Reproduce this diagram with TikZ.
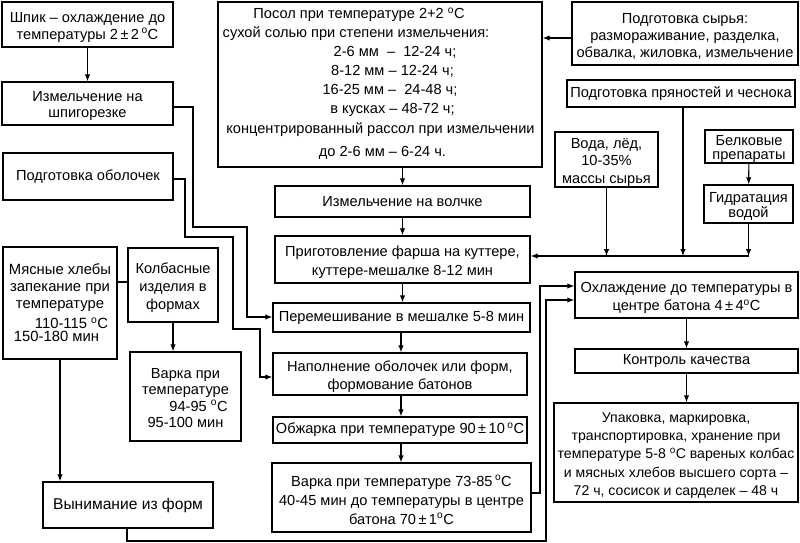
\documentclass[tikz,border=0pt]{standalone}
\usepackage{fontspec}
\setmainfont{Liberation Sans}
\usetikzlibrary{arrows.meta}
\newcommand\dC{\textsuperscript{o}C}
\newcommand\pmx{\,±\,}
\newcommand\tp{\rule{0pt}{15.5pt}}
\newcommand\flowbox[7][]{\node[box,#1,minimum width={(#4-#2)*1pt},minimum height={(#5-#3)*1pt}] (#6) at ({(#2+#4)/2},{(#3+#5)/2}) {#7};}
\begin{document}
\begin{tikzpicture}[x=1pt,y=-1pt,
  every node/.style={font=\fontsize{14.6}{18.3}\selectfont},
  box/.style={draw,line width=1.4pt,inner sep=0pt,align=center},
  txt/.style={inner sep=0pt,anchor=base},
  arr/.style={line width=1.1pt,-{Latex[length=7pt,width=5.5pt]}},
  con/.style={line width=1.1pt}]
\useasboundingbox[fill=white] (0,0) rectangle (800,543);
% left column
\flowbox[font=\fontsize{14.6}{16.7}\selectfont]{2}{2}{173}{47}{shpik}{\tp Шпик – охлаждение до\\температуры 2\pmx2\,\dC}
\flowbox[font=\fontsize{14.6}{15.5}\selectfont]{2}{82}{173}{125}{shpig}{\tp Измельчение на\\шпигорезке}
\flowbox{3}{153}{173}{200}{obol}{Подготовка оболочек}
\flowbox[font=\fontsize{14.8}{17}\selectfont]{3}{247}{117}{359}{myas}{Мясные хлебы\\запекание при\\температуре\\[3pt]\hspace*{23pt}110-115 \dC\\[-4pt]150-180 мин\hspace*{7pt}}
\flowbox[font=\fontsize{14.6}{17.8}\selectfont]{128}{248}{218}{322}{kolb}{\tp Колбасные\\изделия в\\формах}
\flowbox[font=\fontsize{14.6}{16.5}\selectfont]{130}{352}{241}{441}{varka}{\rule{0pt}{13pt}Варка при\\температуре\\\hspace*{26pt}94-95 \dC\\95-100 мин}
\flowbox[font=\fontsize{15.6}{18}\selectfont]{43}{482}{213}{528}{vyn}{Вынимание из форм}
% middle column
\flowbox{218}{2}{542}{167}{posol}{}
\node[txt] (p1) at (359,19) {Посол при температуре 2+2 \dC};
\node[txt] (p2) at (356,37.5) {сухой солью при степени измельчения:};
\node[txt] (p3) at (395,56.5) {2-6 мм \ – \ 12-24 ч;};
\node[txt] (p4) at (392.5,75) {8-12 мм – 12-24 ч;};
\node[txt] (p5) at (390,94) {16-25 мм – \ 24-48 ч;};
\node[txt] (p6) at (392.5,113) {в кусках – 48-72 ч;};
\node[txt] (p7) at (380.5,133) {концентрированный рассол при измельчении};
\node[txt] (p8) at (382.5,156) {до 2-6 мм – 6-24 ч.};
\flowbox{275}{186}{530}{217}{volch}{Измельчение на волчке}
\flowbox[font=\fontsize{14.6}{19.3}\selectfont]{275}{236}{530}{283}{prig}{\tp Приготовление фарша на куттере,\\куттере-мешалке 8-12 мин}
\flowbox{273}{303}{530}{332}{perem}{Перемешивание в мешалке 5-8 мин}
\flowbox{273}{353}{527}{395}{napol}{\tp Наполнение оболочек или форм,\\формование батонов}
\flowbox{273}{417}{527}{443}{obzh}{Обжарка при температуре 90\pmx10\,\dC}
\flowbox[font=\fontsize{14.6}{19}\selectfont]{272}{463}{531}{532}{varkb}{\tp Варка при температуре 73-85\,\dC\\40-45 мин до температуры в центре\\батона 70\pmx1\dC}
% right column
\flowbox[font=\fontsize{14.6}{16.7}\selectfont]{572}{2}{798}{65}{syr}{\tp Подготовка сырья:\\размораживание, разделка,\\обвалка, жиловка, измельчение}
\flowbox{567}{80}{795}{107}{pryan}{Подготовка пряностей и чеснока}
\flowbox[font=\fontsize{14.6}{17.5}\selectfont]{555}{132}{658}{187}{voda}{\tp Вода, лёд,\\10-35\%\\массы сырья}
\flowbox[font=\fontsize{14.6}{13.5}\selectfont]{705}{130}{793}{163}{belk}{\tp Белковые\\препараты}
\flowbox[font=\fontsize{14.6}{13.5}\selectfont]{704}{185}{793}{223}{gidr}{\tp Гидратация\\водой}
\flowbox{575}{272}{798}{318}{ohl}{\tp Охлаждение до температуры в\\центре батона 4\pmx4\dC}
\flowbox{575}{349}{798}{373}{kontr}{Контроль качества}
\flowbox[font=\fontsize{14.1}{18.3}\selectfont]{554}{403}{798}{502}{upak}{\tp Упаковка, маркировка,\\транспортировка, хранение при\\температуре 5-8 \dC\ вареных колбас\\и мясных хлебов высшего сорта –\\72 ч, сосисок и сарделек – 48 ч}
\coordinate (jw) at (748.5,256);
% connectors
\draw[arr] (shpik) -- (shpig);
\draw[arr] (shpig.east |- 0,107) -- (193,107) -- (193,227) -- (247,227) -- (247,317) -- (perem.west |- 0,317);
\draw[arr] (obol.east |- 0,179) -- (185,179) -- (185,237) -- (233,237) -- (233,329) -- (260,329) -- (260,377) -- (napol.west |- 0,377);
\draw[con] (myas.east |- 0,282) -- (kolb.west |- 0,282);
\draw[arr] (kolb.south) -- (kolb.south |- varka.north);
\draw[arr] (myas.south) -- (myas.south |- vyn.north);
\draw[arr] (vyn.south -| 127,0) -- (127,541) -- (546,541) -- (546,300) -- (ohl.west |- 0,300);
\draw[arr] (varkb.east |- 0,493) -- (540,493) -- (540,286) -- (ohl.west |- 0,286);
\draw[arr] (posol.south -| volch.north) -- (volch.north);
\draw[arr] (volch.south) -- (volch.south |- prig.north);
\draw[arr] (prig.south) -- (prig.south |- perem.north);
\draw[arr] (perem.south -| 401,0) -- (napol.north -| 401,0);
\draw[arr] (napol.south -| 401,0) -- (obzh.north -| 401,0);
\draw[arr] (obzh.south -| 401,0) -- (varkb.north -| 401,0);
\draw[arr] (syr.west |- 0,38) -- (posol.east |- 0,38);
\draw[arr] (pryan.south -| 683,0) -- (683,256);
\draw[arr] (voda.south) -- (voda.south |- jw);
\draw[arr] (belk) -- (gidr);
\draw[arr] (gidr) -- (jw);
\draw[arr] (jw) -- (prig.east |- jw);
\draw[arr] (ohl) -- (kontr);
\draw[arr] (kontr.south) -- (kontr.south |- upak.north);
\end{tikzpicture}
\end{document}
